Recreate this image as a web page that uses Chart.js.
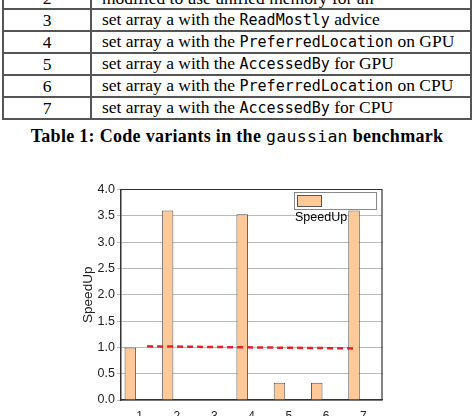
<!DOCTYPE html>
<html><head><meta charset="utf-8">
<script src="https://cdn.jsdelivr.net/npm/chart.js@4"></script>
<style>
body{margin:0;width:474px;height:416px;overflow:hidden;background:#fff;position:relative;font-family:"Liberation Serif",serif}
table{position:absolute;left:2px;top:-13px;width:470px;border-collapse:collapse;font-size:17.5px}
td{border:2px solid #555;height:19px;padding:0 0 0 10px;line-height:19px;white-space:nowrap}
td.n{width:86px;text-align:center;padding:0}
code{font-family:"DejaVu Sans Mono",monospace;font-size:15px}
#cap{position:absolute;top:126px;left:0;width:474px;text-align:center;font-weight:bold;font-size:18px;letter-spacing:0.3px}
#cap code{font-size:16.5px;font-weight:normal}
#wrap{position:absolute;left:80px;top:180px;width:320px;height:240px}
#leg{position:absolute;left:294px;top:192px;width:81px;height:16px;border:1px solid #888;background:#fff;font-family:"Liberation Sans",sans-serif;font-size:12.5px;line-height:16px}
#leg span{display:inline-block;width:23px;height:10px;background:#FDC998;border:1px solid #555;margin:2px 3px 0 2px;vertical-align:top}
</style></head><body>
<table>
<tr><td class="n">2</td><td>modified to use unified memory for all</td></tr>
<tr><td class="n">3</td><td>set array a with the <code>ReadMostly</code> advice</td></tr>
<tr><td class="n">4</td><td>set array a with the <code>PreferredLocation</code> on GPU</td></tr>
<tr><td class="n">5</td><td>set array a with the <code>AccessedBy</code> for GPU</td></tr>
<tr><td class="n">6</td><td>set array a with the <code>PreferredLocation</code> on CPU</td></tr>
<tr><td class="n">7</td><td>set array a with the <code>AccessedBy</code> for CPU</td></tr>
</table>
<div id="cap">Table 1: Code variants in the <code>gaussian</code> benchmark</div>
<div id="wrap"><canvas id="c"></canvas></div>
<div id="leg"><span></span>SpeedUp</div>
<script>
const categories=["1","2","3","4","5","6","7"];
const speedUp=[1.0,3.6,0.01,3.53,0.33,0.33,3.6];
const baseline=[{x:0.5,y:1.02},{x:7.5,y:0.98}];
const yTicks=[0,0.5,1,1.5,2,2.5,3,3.5,4];
new Chart(document.getElementById('c'),{
type:'bar',
data:{labels:categories,datasets:[
{type:'bar',label:'SpeedUp',data:speedUp,backgroundColor:'#FDC998',borderColor:'#555',borderWidth:1,categoryPercentage:1,barPercentage:0.62,order:2},
{type:'line',data:baseline,xAxisID:'x2',borderColor:'#e8202a',borderWidth:2.5,borderDash:[6,4],pointRadius:0,order:1}
]},
options:{animation:false,responsive:true,maintainAspectRatio:false,
layout:{padding:{top:9,right:18,left:0,bottom:0}},
plugins:{legend:{display:false},tooltip:{enabled:false}},
scales:{
x:{offset:true,grid:{display:false,offset:true},border:{color:'#333',width:1.5},ticks:{color:'#222',font:{family:'Liberation Sans',size:12},padding:1},afterFit:s=>{s.height=20}},
x2:{type:'linear',min:0.5,max:7.5,display:false},
y:{min:0,max:4,afterBuildTicks:s=>{s.ticks=yTicks.map(v=>({value:v}))},
 grid:{color:'#bbb',borderDash:[2,2],tickLength:4,drawOnChartArea:true},
 border:{color:'#333',width:1.5},
 ticks:{color:'#222',font:{family:'Liberation Sans',size:12.5},callback:v=>v.toFixed(1),padding:2},
 title:{display:true,text:'SpeedUp',color:'#222',font:{family:'Liberation Sans',size:13.5},padding:0},
 afterFit:s=>{s.width=41}}
}},
plugins:[{id:'box',afterDatasetsDraw(c){const a=c.chartArea,x=c.ctx;x.save();x.strokeStyle='#333';x.lineWidth=1.2;x.beginPath();x.moveTo(a.left,a.top);x.lineTo(a.right,a.top);x.lineTo(a.right,a.bottom);x.stroke();x.restore();}}]
});
</script>
</body></html>
